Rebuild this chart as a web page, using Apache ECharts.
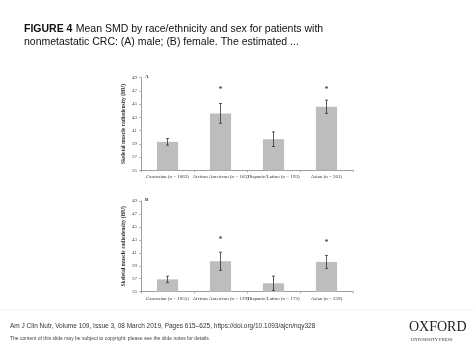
<!DOCTYPE html>
<html><head><meta charset="utf-8">
<script src="https://cdn.jsdelivr.net/npm/echarts@6/dist/echarts.min.js"></script>
<style>html,body{margin:0;padding:0;background:#fff}#c{width:474px;height:355px}</style>
</head><body><div id="c"></div>
<script>
const catsA = ['Caucasian (n = 1063)', 'African American (n = 165)', 'Hispanic/Latino (n = 193)', 'Asian (n = 261)'];
const catsB = ['Caucasian (n = 1055)', 'African American (n = 129)', 'Hispanic/Latino (n = 172)', 'Asian (n = 259)'];
const meanA = [39.3, 43.6, 39.7, 44.6];
const errA = [0.5, 1.5, 1.1, 1.0];
const starA = [null, 47.1, null, 47.1];
const meanB = [36.9, 39.7, 36.3, 39.6];
const errB = [0.5, 1.4, 1.1, 1.0];
const starB = [null, 43.0, null, 42.6];
const yTicks = [35, 37, 39, 41, 43, 45, 47, 49];

const chart = echarts.init(document.getElementById('c'), null, {renderer: 'canvas'});
const serif = 'Liberation Serif';
const yAxisCfg = (gi) => ({
  type: 'value', gridIndex: gi, min: 35, max: 49, interval: 2,
  name: 'Skeletal muscle radiodensity (HU)', nameLocation: 'middle', nameGap: 14,
  nameTextStyle: {fontFamily: serif, fontSize: 5.5, fontWeight: 'bold', color: '#333'},
  axisLine: {show: true, lineStyle: {color: '#888', width: 0.8}},
  axisTick: {show: true, length: 2, lineStyle: {color: '#888', width: 0.6}},
  axisLabel: {fontFamily: serif, fontSize: 5, color: '#444', margin: 4,
    formatter: v => yTicks.includes(v) ? String(v) : ''},
  splitLine: {show: false}
});
const xAxisCfg = (gi, cats) => ({
  type: 'category', gridIndex: gi, data: cats,
  axisLine: {lineStyle: {color: '#888', width: 0.8}},
  axisTick: {show: true, length: 2, lineStyle: {color: '#888', width: 0.6}},
  axisLabel: {fontFamily: serif, fontSize: 5, color: '#333', margin: 4, interval: 0}
});
function errSeries(gi, means, errs) {
  return {
    type: 'custom', xAxisIndex: gi, yAxisIndex: gi, z: 5,
    data: means.map((m, i) => [i, m - errs[i], m + errs[i]]),
    renderItem: (params, api) => {
      const lo = api.coord([api.value(0), Math.max(api.value(1), 35)]);
      const hi = api.coord([api.value(0), api.value(2)]);
      const w = 1.5;
      const st = {stroke: '#333', lineWidth: 0.8};
      return {type: 'group', children: [
        {type: 'line', shape: {x1: lo[0], y1: lo[1], x2: hi[0], y2: hi[1]}, style: st},
        {type: 'line', shape: {x1: lo[0]-w, y1: lo[1], x2: lo[0]+w, y2: lo[1]}, style: st},
        {type: 'line', shape: {x1: hi[0]-w, y1: hi[1], x2: hi[0]+w, y2: hi[1]}, style: st}
      ]};
    }
  };
}
function starSeries(gi, stars) {
  return {
    type: 'custom', xAxisIndex: gi, yAxisIndex: gi, z: 6,
    data: stars.map((s, i) => s == null ? null : [i, s]).filter(d => d),
    renderItem: (params, api) => {
      const p = api.coord([api.value(0), api.value(1)]);
      return {type: 'text', x: p[0], y: p[1], style: {text: '*', fontFamily: serif, fontSize: 8, fill: '#222', align: 'center', verticalAlign: 'middle'}};
    }
  };
}
const barStyle = {color: '#bdbdbd'};
chart.setOption({
  animation: false,
  backgroundColor: '#fff',
  grid: [
    {left: 141, right: 121, top: 77.7, bottom: 184.7},
    {left: 141, right: 121, top: 201, bottom: 63.3}
  ],
  xAxis: [xAxisCfg(0, catsA), xAxisCfg(1, catsB)],
  yAxis: [yAxisCfg(0), yAxisCfg(1)],
  series: [
    {type: 'bar', xAxisIndex: 0, yAxisIndex: 0, data: meanA, barWidth: '40%', itemStyle: barStyle},
    {type: 'bar', xAxisIndex: 1, yAxisIndex: 1, data: meanB, barWidth: '40%', itemStyle: barStyle},
    errSeries(0, meanA, errA), errSeries(1, meanB, errB),
    starSeries(0, starA), starSeries(1, starB)
  ],
  graphic: [
    {type: 'text', left: 24, top: 23, style: {rich: {b: {fontFamily: 'Liberation Sans', fontSize: 10.5, fontWeight: 'bold', fill: '#111'}, n: {fontFamily: 'Liberation Sans', fontSize: 10.5, fill: '#111'}}, text: '{b|FIGURE 4} {n|Mean SMD by race/ethnicity and sex for patients with}'}},
    {type: 'text', left: 24, top: 37, style: {text: 'nonmetastatic CRC: (A) male; (B) female. The estimated ...', fontFamily: 'Liberation Sans', fontSize: 10.5, fill: '#111'}},
    {type: 'text', left: 145, top: 74, style: {text: 'A', fontFamily: serif, fontSize: 5, fontWeight: 'bold', fill: '#333'}},
    {type: 'text', left: 145, top: 197, style: {text: 'B', fontFamily: serif, fontSize: 5, fontWeight: 'bold', fill: '#333'}},
    {type: 'line', shape: {x1: 0, y1: 310, x2: 474, y2: 310}, style: {stroke: '#eeeeee', lineWidth: 1}},
    {type: 'text', left: 10, top: 323, style: {text: 'Am J Clin Nutr, Volume 109, Issue 3, 08 March 2019, Pages 615–625, https://doi.org/10.1093/ajcn/nqy328', fontFamily: 'Liberation Sans', fontSize: 6.5, fill: '#333'}},
    {type: 'text', left: 10, top: 336, style: {text: 'The content of this slide may be subject to copyright: please see the slide notes for details.', fontFamily: 'Liberation Sans', fontSize: 5, fill: '#444'}},
    {type: 'text', left: 409, top: 320, style: {text: 'OXFORD', fontFamily: serif, fontSize: 14, fill: '#222'}},
    {type: 'text', left: 411, top: 337, style: {text: 'UNIVERSITY PRESS', fontFamily: serif, fontSize: 4.5, fill: '#333'}}
  ]
});
</script></body></html>
